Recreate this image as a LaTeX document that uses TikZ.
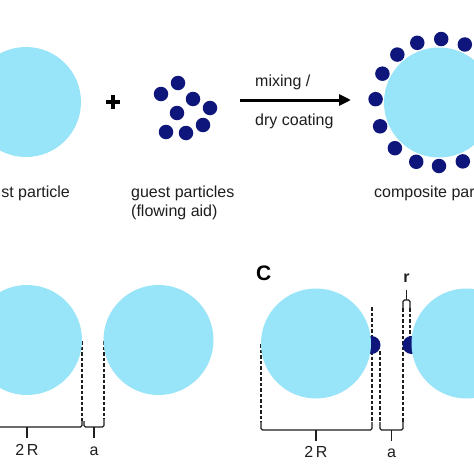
\documentclass[tikz,border=0pt]{standalone}
\usepackage{fontspec}
\setmainfont{Liberation Sans}
\usetikzlibrary{arrows.meta,calc}
\definecolor{hostblue}{RGB}{152,228,248}
\definecolor{navy}{RGB}{14,22,124}
\definecolor{txt}{RGB}{30,30,30}
\tikzset{
  big/.style={circle,fill=hostblue,draw=none,minimum size=110pt,inner sep=0pt},
  dot/.style={circle,fill=navy,draw=none,minimum size=14.5pt,inner sep=0pt},
  halfdot/.style={circle,fill=navy,draw=none,minimum size=18pt,inner sep=0pt},
  lbl/.style={inner sep=0pt,text=txt,font=\fontsize{16}{19}\selectfont},
  dashline/.style={line width=1.4pt,dash pattern=on 3.5pt off 2pt,color=txt},
  brk/.style={line width=1.3pt,color=txt,rounded corners=1.5pt},
}
\begin{document}
\begin{tikzpicture}[x=1pt,y=-1pt]
\useasboundingbox (0,0) rectangle (474,474);
\clip (0,0) rectangle (474,474);
\fill[white] (0,0) rectangle (474,474);
% ---------- top row ----------
\node[big] (host) at (26,102) {};
\node[lbl,anchor=base east] (hostlbl) at (70,197) {st particle};
% plus sign
\coordinate (p1) at (106,102); \coordinate (p2) at (120,102);
\coordinate (p3) at (113,95);  \coordinate (p4) at (113,109);
\draw[line width=4.5pt,color=black] (p1) -- (p2) (p3) -- (p4);
% guest particles
\foreach \n/\x/\y in {g1/178/83,g2/161/94,g3/193/99,g4/210/108,g5/177/113,g6/166/132,g7/186/133,g8/203/125}
  \node[dot] (\n) at (\x,\y) {};
\node[lbl,anchor=base west] (guestlbl) at (131,197) {guest particles};
\node[lbl,anchor=base west] (flowlbl) at (131,216) {(flowing aid)};
% arrow
\coordinate (a0) at (240,100); \coordinate (a1) at (351,100);
\draw[line width=3pt,color=black,-{Triangle[length=12pt,width=11pt]}] (a0) -- (a1);
\node[lbl,anchor=base west] (mix) at (255,86) {mixing /};
\node[lbl,anchor=base west] (dry) at (255,125) {dry coating};
% composite particle
\node[big] (comp) at (439,102.5) {};
\foreach \a [count=\i] in {66,88,110,131,153,177,202,226,249,270,292,314,336,358,20,43}
  \node[dot] (c\i) at ($(439,102.5)+(\a:63.5 and -63.5)$) {};
\node[lbl,anchor=base west] (complbl) at (374,197) {composite par};
% ---------- panel B ----------
\coordinate (b1t) at (82,341);  \coordinate (b1b) at (82,421);
\coordinate (b2t) at (104,341); \coordinate (b2b) at (104,419);
\draw[dashline] (b1t) -- (b1b);
\draw[dashline] (b2t) -- (b2b);
\node[big] (bl) at (27,340) {};
\node[big] (br) at (158.5,340) {};
\coordinate (bL) at (-5,427); \coordinate (bc1) at (82,427);
\draw[brk] (bL) -- (bc1) -- (b1b);
\coordinate (ba0) at (84,421); \coordinate (ba1) at (84,427); \coordinate (ba2) at (104,427);
\draw[brk] (ba0) -- (ba1) -- (ba2) -- (b2b);
\coordinate (bt1) at (27,427); \coordinate (bt2) at (27,438);
\draw[brk] (bt1) -- (bt2);
\coordinate (bt3) at (94,427); \coordinate (bt4) at (94,438);
\draw[brk] (bt3) -- (bt4);
\node[lbl,anchor=base] (b2R) at (27,455) {2\,R};
\node[lbl,anchor=base] (ba) at (94,455) {a};
% ---------- panel C ----------
\node[lbl,anchor=base west,font=\bfseries\fontsize{21}{24}\selectfont,text=black] (Clbl) at (256,280) {C};
\coordinate (c1t) at (261,344); \coordinate (c1b) at (261,422);
\coordinate (c2t) at (372,307); \coordinate (c2b) at (372,422);
\coordinate (c3t) at (380,351); \coordinate (c3b) at (380,422);
\coordinate (c4t) at (403,308); \coordinate (c4b) at (403,422);
\coordinate (c5t) at (410,308); \coordinate (c5b) at (410,338);
\draw[dashline] (c1t) -- (c1b);
\draw[dashline] (c2t) -- (c2b);
\draw[dashline] (c3t) -- (c3b);
\draw[dashline] (c4t) -- (c4b);
\draw[dashline] (c5t) -- (c5b);
\node[halfdot] (hd1) at (371.5,345) {};
\node[halfdot] (hd2) at (411.5,345) {};
\node[big] (cl) at (316,343.5) {};
\node[big] (cr) at (466.5,343.5) {};
% brackets
\coordinate (cb1) at (261,430); \coordinate (cb2) at (372,430);
\draw[brk] (c1b) -- (cb1) -- (cb2) -- (c2b);
\coordinate (cb3) at (380,430); \coordinate (cb4) at (403,430);
\draw[brk] (c3b) -- (cb3) -- (cb4) -- (c4b);
\coordinate (ct1) at (316,430); \coordinate (ct2) at (316,441);
\draw[brk] (ct1) -- (ct2);
\coordinate (ct3) at (391.5,430); \coordinate (ct4) at (391.5,441);
\draw[brk] (ct3) -- (ct4);
\node[lbl,anchor=base] (c2R) at (316,457) {2\,R};
\node[lbl,anchor=base] (ca) at (391.5,457) {a};
% r bracket
\coordinate (r1) at (403,300); \coordinate (r2) at (410,300);
\draw[brk] (c4t) -- (r1) -- (r2) -- (c5t);
\coordinate (rt1) at (406.5,300); \coordinate (rt2) at (406.5,290);
\draw[brk] (rt1) -- (rt2);
\node[lbl,anchor=base,font=\bfseries\fontsize{16}{19}\selectfont] (rlbl) at (406.5,282) {r};
\end{tikzpicture}
\end{document}
